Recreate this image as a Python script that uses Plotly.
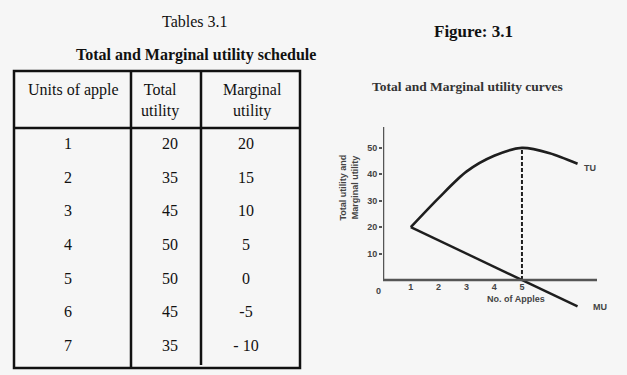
import plotly.graph_objects as go

# ---------------- data ----------------
units = [1, 2, 3, 4, 5, 6, 7]
total_utility = [20, 35, 45, 50, 50, 45, 35]
marginal_labels = ["20", "15", "10", "5", "0", "-5", "- 10"]
header_labels = ["Units of apple", "Total<br>utility", "Marginal<br>utility"]

# values
curve_x = [1, 2, 3, 4, 5, 6, 7]
tu_curve = [20, 31, 41, 47, 50, 48, 44]
mu_curve = [20, 15, 10, 5, 0, -5, -10]
y_ticks = [10, 20, 30, 40, 50]
x_ticks = [1, 2, 3, 4, 5]

# ---------------- layout constants ----------------
W, H = 627, 375
BG = "#f6f6f6"
SERIF = "Liberation Serif"
col_edges = [14, 131, 201, 300]          # table x (px units on xaxis2)
col_centers = [68, 170, 246]
ROW_H = 33.67
FIRST_ROW_PX = 145

def row_of(px):
    return 1 + (px - FIRST_ROW_PX) / ROW_H

fig = go.Figure()

# ---------------- chart (xaxis / yaxis) ----------------
line_col = "#1e1e1e"
fig.add_trace(go.Scatter(x=curve_x, y=tu_curve, mode="lines",
                         line=dict(color=line_col, width=2.6, shape="spline", smoothing=0.8),
                         hoverinfo="skip", showlegend=False))
fig.add_trace(go.Scatter(x=curve_x, y=mu_curve, mode="lines",
                         line=dict(color=line_col, width=2.4),
                         hoverinfo="skip", showlegend=False))
# dashed vertical at the TU maximum
peak_i = tu_curve.index(max(tu_curve))
fig.add_trace(go.Scatter(x=[curve_x[peak_i], curve_x[peak_i]], y=[0, tu_curve[peak_i]],
                         mode="lines", line=dict(color=line_col, width=2, dash="4px,2px"),
                         hoverinfo="skip", showlegend=False))

x_top = 7.7
y_top = 57.9
fig.add_shape(type="line", xref="x", yref="y", x0=0, x1=0, y0=0, y1=y_top,
              line=dict(color="#555555", width=2.5))
fig.add_shape(type="line", xref="x", yref="y", x0=0, x1=x_top, y0=0, y1=0,
              line=dict(color="#555555", width=2.5))

tick_font = dict(family="Liberation Sans", size=9, color="#444444", weight="bold")
fig.update_xaxes(domain=[383 / W, 597 / W], range=[0, x_top], showgrid=False, zeroline=False,
                 showline=False, tickvals=x_ticks, ticks="", tickfont=tick_font,
                 anchor="free", position=1 - 280 / H)
fig.update_yaxes(domain=[1 - 311.7 / H, 1 - 127 / H], range=[-12, y_top], showgrid=False,
                 zeroline=False, showline=False, tickvals=y_ticks, ticks="outside", ticklen=3,
                 tickwidth=1.5, tickcolor="#555555", tickfont=tick_font, anchor="x")

lab_font = dict(family="Liberation Sans", size=9, color="#444444", weight="bold")
fig.add_annotation(x=0, y=0, xref="x", yref="y", text="0", showarrow=False,
                   xshift=-5, yshift=-11, font=lab_font)
fig.add_annotation(x=4.8, y=0, xref="x", yref="y", text="No. of Apples", showarrow=False,
                   yshift=-19, font=lab_font)
fig.add_annotation(x=0, y=35, xref="x", yref="y", text="Total utility and<br>Marginal utility",
                   showarrow=False, textangle=-90, xshift=-34,
                   font=dict(family="Liberation Sans", size=9, color="#444444", weight="bold"))
fig.add_annotation(x=curve_x[-1], y=tu_curve[-1], xref="x", yref="y", text="TU", showarrow=False,
                   xshift=12, yshift=-4, font=lab_font)
fig.add_annotation(x=curve_x[-1], y=mu_curve[-1], xref="x", yref="y", text="MU", showarrow=False,
                   xshift=22, yshift=-1, font=lab_font)

# ---------------- table (xaxis2 / yaxis2) ----------------
fig.update_layout(
    xaxis2=dict(domain=[0, 0.5], range=[0, W * 0.5], visible=False, anchor="y2"),
    yaxis2=dict(domain=[0, 1], range=[row_of(H), row_of(0)], visible=False, anchor="x2"),
)

cell_font = dict(family=SERIF, size=16, color="#111111")
table_cols = [[str(u) for u in units], [str(t) for t in total_utility], marginal_labels]
for ci, col in enumerate(table_cols):
    fig.add_trace(go.Scatter(x=[col_centers[ci]] * len(col), y=units, mode="text",
                             text=col, textfont=cell_font, xaxis="x2", yaxis="y2",
                             hoverinfo="skip", showlegend=False))

head_centers = [73, 160, 252]
for ci, h in enumerate(header_labels):
    fig.add_annotation(x=head_centers[ci], y=row_of(79), xref="x2", yref="y2", text=h,
                       showarrow=False, yanchor="top", xanchor="center", font=cell_font)

top_r, head_r, bot_r = row_of(71), row_of(128), row_of(368)
bl = dict(color="#111111", width=2.5)
fig.add_shape(type="rect", xref="x2", yref="y2", x0=col_edges[0], x1=col_edges[-1],
              y0=top_r, y1=bot_r, line=bl)
fig.add_shape(type="line", xref="x2", yref="y2", x0=col_edges[0], x1=col_edges[-1],
              y0=head_r, y1=head_r, line=bl)
fig.add_shape(type="line", xref="x2", yref="y2", x0=col_edges[1], x1=col_edges[1],
              y0=top_r, y1=bot_r, line=bl)
fig.add_shape(type="line", xref="x2", yref="y2", x0=col_edges[2], x1=col_edges[2],
              y0=top_r, y1=row_of(365), line=bl)

# ---------------- titles ----------------
def title(x, y, text, font):
    fig.add_annotation(x=x / W, y=1 - y / H, xref="paper", yref="paper", text=text,
                       showarrow=False, xanchor="center", yanchor="middle", font=font)

title(195, 21, "Tables 3.1", dict(family=SERIF, size=16, color="#111111"))
title(196, 55, "<b>Total and Marginal utility schedule</b>", dict(family=SERIF, size=16, color="#111111"))
title(473, 31, "<b>Figure: 3.1</b>", dict(family=SERIF, size=17, color="#111111"))
title(467, 86, "<b>Total and Marginal utility curves</b>", dict(family=SERIF, size=13.5, color="#333333"))

fig.update_layout(width=W, height=H, margin=dict(l=0, r=0, t=0, b=0),
                  paper_bgcolor=BG, plot_bgcolor="rgba(0,0,0,0)", showlegend=False)

fig.write_html("out.html", config={"displayModeBar": False},
               post_script="document.body.style.margin='0';document.body.style.background='" + BG + "';")
